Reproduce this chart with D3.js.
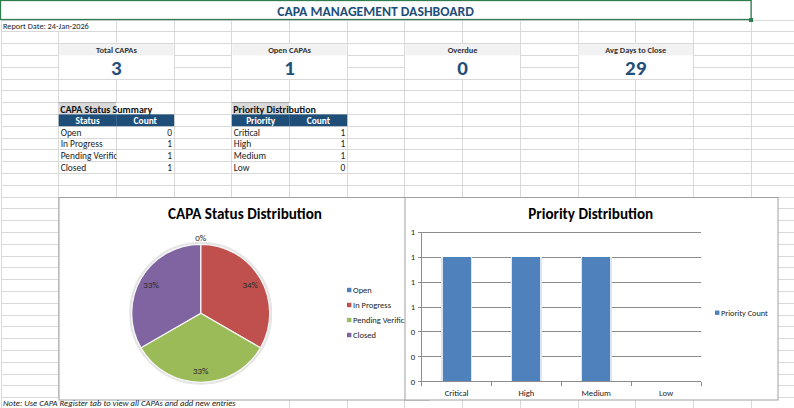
<!DOCTYPE html>
<html><head><meta charset="utf-8">
<script src="https://cdn.jsdelivr.net/npm/d3@7/dist/d3.min.js"></script>
<style>
html,body{margin:0;padding:0;background:#fff;}
svg{display:block;font-family:Carlito, Lato, "Open Sans", sans-serif;}
</style></head><body>
<svg id="c" width="794" height="408"></svg>
<script>
// ---------- DATA ----------
const reportTitle = "CAPA MANAGEMENT DASHBOARD";
const reportDate = "Report Date: 24-Jan-2026";
const kpiLabels = ["Total CAPAs", "Open CAPAs", "Overdue", "Avg Days to Close"];
const kpiValues = [3, 1, 0, 29];
const statusTableTitle = "CAPA Status Summary";
const statusHeaders = ["Status", "Count"];
const statusCategories = ["Open", "In Progress", "Pending Verification", "Closed"];
const statusCounts = [0, 1, 1, 1];
const priorityTableTitle = "Priority Distribution";
const priorityHeaders = ["Priority", "Count"];
const priorityCategories = ["Critical", "High", "Medium", "Low"];
const priorityCounts = [1, 1, 1, 0];
const pieTitle = "CAPA Status Distribution";
const barTitle = "Priority Distribution";
const barSeriesName = "Priority Count";
const statusColors = ["#4F81BD", "#C0504D", "#9BBB59", "#8064A2"];
const barColor = "#4F81BD";
const noteText = "Note: Use CAPA Register tab to view all CAPAs and add new entries";

// ---------- LAYOUT ----------
const svg = d3.select("#c");
const colX = i => 1 + i * 57.7;
const rowY = r => r === 0 ? 0 : 20 + (r - 1) * 11.8;
const NC = 15, NR = 36;
const gridColor = "#D9D9D9";
const navy = "#1F4E79";
const TR = 8; // table title row index

// text fitting helper
const meas = svg.append("text").attr("x", -1000).attr("y", -1000);
function fitSize(str, width, weight, style) {
  meas.attr("font-size", 100).attr("font-weight", weight || "normal").attr("font-style", style || "normal").text(str);
  const w = meas.node().getComputedTextLength();
  return 100 * width / w;
}

svg.append("rect").attr("width", 794).attr("height", 408).attr("fill", "#fff");

// regions where gridlines are hidden (merges / overflowing text): [c0,c1,r0,r1)
const hidden = [
  [0, 13, 0, 1],
  [0, 2, 1, 2],
  [1, 3, TR, TR + 1], [4, 6, TR, TR + 1],
  [0, 5, 33, 34]
];
kpiLabels.forEach((_, k) => hidden.push([1 + 3 * k, 3 + 3 * k, 3, 6]));

const g = svg.append("g").attr("stroke", gridColor).attr("stroke-width", 1).attr("shape-rendering", "crispEdges");
for (let i = 0; i < NC; i++) {
  for (let r = 0; r < NR; r++) {
    if (hidden.some(h => h[0] < i && i < h[1] && h[2] <= r && r < h[3])) continue;
    g.append("line").attr("x1", colX(i)).attr("x2", colX(i)).attr("y1", rowY(r)).attr("y2", rowY(r + 1));
  }
}
for (let r = 1; r < NR; r++) {
  for (let c = 0; c < NC; c++) {
    if (hidden.some(h => h[2] < r && r < h[3] && h[0] <= c && c < h[1])) continue;
    g.append("line").attr("y1", rowY(r)).attr("y2", rowY(r)).attr("x1", colX(c)).attr("x2", colX(c + 1));
  }
}

// ---------- TITLE ----------
svg.append("rect").attr("x", 0.5).attr("y", 0.5).attr("width", colX(13) - 0.5).attr("height", rowY(1) - 1)
  .attr("fill", "#fff").attr("stroke", "#2E7D4F").attr("stroke-width", 1.3);
svg.append("rect").attr("x", colX(13) - 2).attr("y", rowY(1) - 2).attr("width", 4).attr("height", 4).attr("fill", "#2E7D4F");
svg.append("text").attr("x", colX(13) / 2).attr("y", 11).attr("text-anchor", "middle").attr("dominant-baseline", "central")
  .attr("font-weight", "bold").attr("font-size", fitSize(reportTitle, 197, "bold")).attr("fill", navy).text(reportTitle);

const bodySize = fitSize("In Progress", 42);
svg.append("text").attr("x", 3).attr("y", 26).attr("dominant-baseline", "central").attr("font-size", fitSize(reportDate, 86))
  .attr("fill", "#222").text(reportDate);

// ---------- KPI ----------
const kpiLabelSize = fitSize("Avg Days to Close", 61, "bold");
kpiLabels.forEach((lab, k) => {
  const x0 = colX(1 + 3 * k), x1 = colX(3 + 3 * k);
  svg.append("rect").attr("x", x0 + 0.5).attr("y", rowY(3) + 0.5).attr("width", x1 - x0 - 1).attr("height", rowY(4) - rowY(3) - 0.5).attr("fill", "#F2F2F2");
  svg.append("text").attr("x", (x0 + x1) / 2).attr("y", (rowY(3) + rowY(4)) / 2 + 0.5).attr("text-anchor", "middle")
    .attr("dominant-baseline", "central").attr("font-weight", "bold").attr("font-size", kpiLabelSize).attr("fill", "#333").text(lab);
  svg.append("text").attr("x", (x0 + x1) / 2).attr("y", (rowY(4) + rowY(6)) / 2 + 0.5).attr("text-anchor", "middle")
    .attr("dominant-baseline", "central").attr("font-weight", "bold").attr("font-size", 21).attr("fill", navy).text(kpiValues[k]);
});

// ---------- TABLES ----------
function table(c0, title, headers, cats, vals) {
  const x0 = colX(c0), xm = colX(c0 + 1), x1 = colX(c0 + 2);
  svg.append("rect").attr("x", x0 + 0.5).attr("y", rowY(TR) + 0.5).attr("width", xm - x0 - 1).attr("height", rowY(TR + 1) - rowY(TR) - 1)
    .attr("fill", "#D9D9D9");
  svg.append("line").attr("x1", x0).attr("x2", xm).attr("y1", rowY(TR)).attr("y2", rowY(TR)).attr("stroke", "#A6A6A6");
  svg.append("text").attr("x", x0 + 1.5).attr("y", (rowY(TR) + rowY(TR + 1)) / 2 + 0.5).attr("dominant-baseline", "central")
    .attr("font-weight", "bold").attr("font-size", fitSize(statusTableTitle, 92, "bold")).attr("fill", "#111").text(title);
  svg.append("rect").attr("x", x0).attr("y", rowY(TR + 1)).attr("width", x1 - x0).attr("height", rowY(TR + 2) - rowY(TR + 1)).attr("fill", navy);
  svg.append("line").attr("x1", xm).attr("x2", xm).attr("y1", rowY(TR + 1)).attr("y2", rowY(TR + 2)).attr("stroke", "#3A6690");
  headers.forEach((h, j) => {
    svg.append("text").attr("x", j === 0 ? (x0 + xm) / 2 : (xm + x1) / 2).attr("y", (rowY(TR + 1) + rowY(TR + 2)) / 2 + 0.5)
      .attr("text-anchor", "middle").attr("dominant-baseline", "central").attr("font-weight", "bold")
      .attr("font-size", bodySize).attr("fill", "#fff").text(h);
  });
  const clipId = "clip" + c0;
  svg.append("clipPath").attr("id", clipId).append("rect").attr("x", x0).attr("y", rowY(TR + 2)).attr("width", xm - x0).attr("height", 60);
  cats.forEach((c, i) => {
    const yc = (rowY(TR + 2 + i) + rowY(TR + 3 + i)) / 2 + 0.5;
    svg.append("text").attr("x", x0 + 2).attr("y", yc).attr("dominant-baseline", "central").attr("font-size", bodySize)
      .attr("fill", "#222").attr("clip-path", `url(#${clipId})`).text(c);
    svg.append("text").attr("x", x1 - 2).attr("y", yc).attr("text-anchor", "end").attr("dominant-baseline", "central")
      .attr("font-size", bodySize).attr("fill", "#222").text(vals[i]);
  });
}
table(1, statusTableTitle, statusHeaders, statusCategories, statusCounts);
table(4, priorityTableTitle, priorityHeaders, priorityCategories, priorityCounts);

// ---------- PIE CHART ----------
const pieBox = {x: 59, y: 197.5, w: 370, h: 202.5};
svg.append("rect").attr("x", pieBox.x).attr("y", pieBox.y).attr("width", pieBox.w).attr("height", pieBox.h)
  .attr("fill", "#fff").attr("stroke", "#A0A0A0");
svg.append("text").attr("x", 245).attr("y", 213.5).attr("text-anchor", "middle").attr("dominant-baseline", "central")
  .attr("font-weight", "bold").attr("font-size", fitSize(pieTitle, 154, "bold")).attr("fill", "#000").text(pieTitle);

const pieCx = 200.7, pieCy = 313.3, pieR = 69;
const total = d3.sum(statusCounts);
// largest remainder rounding of percentages (as Excel displays)
const raw = statusCounts.map(v => v / total * 100);
const pct = raw.map(Math.floor);
let rem = 100 - d3.sum(pct);
raw.map((v, i) => ({i, f: v - Math.floor(v)})).sort((a, b) => b.f - a.f || a.i - b.i)
  .forEach(o => { if (rem > 0 && o.f > 0) { pct[o.i]++; rem--; } });

const arcs = d3.pie().sort(null).value(d => d)(statusCounts);
const arcGen = d3.arc().innerRadius(0).outerRadius(pieR);
const pg = svg.append("g").attr("transform", `translate(${pieCx},${pieCy})`);
pg.append("circle").attr("r", pieR + 1.5).attr("fill", "none").attr("stroke", "#E4E4E4").attr("stroke-width", 2);
pg.selectAll("path.s").data(arcs.filter(d => d.value > 0)).join("path").attr("class", "s")
  .attr("d", arcGen).attr("fill", d => statusColors[d.index]).attr("stroke", "#F4F4F4").attr("stroke-width", 1.2);
const lblArc = d3.arc().innerRadius(pieR * 0.83).outerRadius(pieR * 0.83);
const pctSize = fitSize("33%", 15.5);
arcs.forEach(d => {
  let p;
  if (d.value > 0) p = lblArc.centroid(d);
  else { const a = d.startAngle; p = [Math.sin(a) * (pieR + 7), -Math.cos(a) * (pieR + 7)]; }
  pg.append("text").attr("x", p[0]).attr("y", p[1]).attr("text-anchor", "middle").attr("dominant-baseline", "central")
    .attr("font-size", pctSize).attr("fill", "#2A2A2A").text(pct[d.index] + "%");
});

const legSize = fitSize("In Progress", 38);
statusCategories.forEach((c, i) => {
  const y = 290 + i * 15;
  svg.append("rect").attr("x", 347).attr("y", y - 2.2).attr("width", 4.4).attr("height", 4.4).attr("fill", statusColors[i]);
  svg.append("text").attr("x", 353).attr("y", y).attr("dominant-baseline", "central").attr("font-size", legSize)
    .attr("fill", "#222").text(c);
});

// ---------- BAR CHART ----------
const barBox = {x: 405, y: 197.5, w: 373, h: 202.5};
svg.append("rect").attr("x", barBox.x).attr("y", barBox.y).attr("width", barBox.w).attr("height", barBox.h)
  .attr("fill", "#fff").attr("stroke", "#A0A0A0");
svg.append("text").attr("x", 590.7).attr("y", 213.5).attr("text-anchor", "middle").attr("dominant-baseline", "central")
  .attr("font-weight", "bold").attr("font-size", fitSize(barTitle, 125, "bold")).attr("fill", "#000").text(barTitle);

const x = d3.scaleBand().domain(priorityCategories).range([421.7, 701]).padding(0);
const y = d3.scaleLinear().domain([0, 1.2]).range([381.7, 232.3]);
const yTicks = y.ticks(6);
const fmt = d3.format(".0f");
const axisSize = fitSize("Critical", 24);

const bg = svg.append("g").attr("shape-rendering", "crispEdges");
bg.selectAll("line.grid").data(yTicks).join("line").attr("class", "grid")
  .attr("x1", x.range()[0] - 4).attr("x2", x.range()[1]).attr("y1", d => y(d)).attr("y2", d => y(d))
  .attr("stroke", "#8C8C8C");
bg.append("line").attr("x1", x.range()[0]).attr("x2", x.range()[0]).attr("y1", y.range()[1]).attr("y2", y.range()[0]).attr("stroke", "#8C8C8C");
const bw = x.bandwidth() / 2.5;
bg.selectAll("rect.glow").data(priorityCounts).join("rect").attr("class", "glow")
  .attr("x", (d, i) => x(priorityCategories[i]) + x.bandwidth() / 2 - bw / 2 - 1.5).attr("width", bw + 3)
  .attr("y", d => y(d)).attr("height", d => y(0) - y(d)).attr("fill", "#DCE6F2");
bg.selectAll("rect.bar").data(priorityCounts).join("rect").attr("class", "bar")
  .attr("x", (d, i) => x(priorityCategories[i]) + x.bandwidth() / 2 - bw / 2).attr("width", bw)
  .attr("y", d => y(d)).attr("height", d => y(0) - y(d)).attr("fill", barColor);
bg.append("line").attr("x1", x.range()[0]).attr("x2", x.range()[1]).attr("y1", y(0)).attr("y2", y(0)).attr("stroke", "#8C8C8C");
priorityCategories.forEach(c => {
  const xb = x(c) + x.bandwidth();
  bg.append("line").attr("x1", xb).attr("x2", xb).attr("y1", y(0)).attr("y2", y(0) + 4).attr("stroke", "#8C8C8C");
});
bg.append("line").attr("x1", x.range()[0]).attr("x2", x.range()[0]).attr("y1", y(0)).attr("y2", y(0) + 4).attr("stroke", "#8C8C8C");

yTicks.forEach(t => {
  svg.append("text").attr("x", 415).attr("y", y(t)).attr("text-anchor", "end").attr("dominant-baseline", "central")
    .attr("font-size", axisSize).attr("fill", "#222").text(fmt(t));
});
priorityCategories.forEach(c => {
  svg.append("text").attr("x", x(c) + x.bandwidth() / 2).attr("y", 392.5).attr("text-anchor", "middle")
    .attr("dominant-baseline", "central").attr("font-size", axisSize).attr("fill", "#222").text(c);
});
svg.append("rect").attr("x", 715).attr("y", 312.7 - 2.2).attr("width", 4.4).attr("height", 4.4).attr("fill", barColor);
svg.append("text").attr("x", 721).attr("y", 312.7).attr("dominant-baseline", "central")
  .attr("font-size", fitSize(barSeriesName, 47)).attr("fill", "#222").text(barSeriesName);

// ---------- NOTE ----------
svg.append("text").attr("x", 3).attr("y", 402.8).attr("dominant-baseline", "central").attr("font-style", "italic")
  .attr("font-size", bodySize * 0.92).attr("fill", "#222").text(noteText);
meas.remove();
</script>
</body></html>
